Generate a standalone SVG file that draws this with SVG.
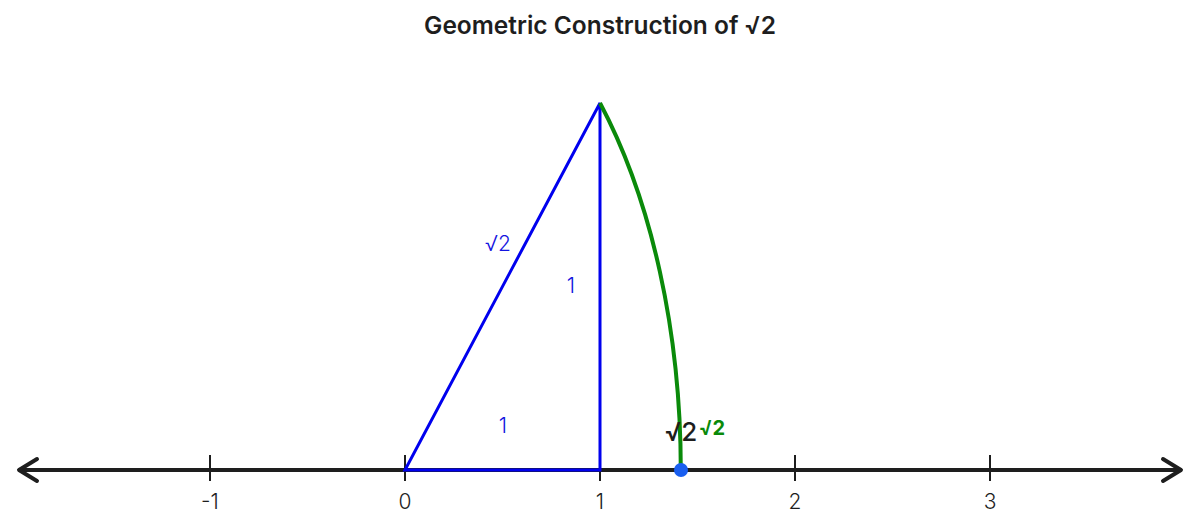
<svg xmlns="http://www.w3.org/2000/svg" width="1200" height="528" viewBox="0 0 1200 528">
<defs>
<style>
.axis{stroke:#1e1e1e;stroke-width:4;fill:none;stroke-linecap:round;stroke-linejoin:round}
.tick{stroke:#1e1e1e;stroke-width:2}
.tl{font-family:Inter,"Liberation Sans",sans-serif;font-size:21px;font-weight:300;fill:#1e1e1e;text-anchor:middle}
.blue{stroke:#0000ee;stroke-width:3;fill:none;stroke-linejoin:miter}
.bl{font-family:Inter,"Liberation Sans",sans-serif;font-size:21px;font-weight:300;fill:#1414e0;text-anchor:middle}
</style>
</defs>
<rect width="1200" height="528" fill="#ffffff"/>
<text x="600" y="34" font-family="Inter,'Liberation Sans',sans-serif" font-size="24.5" font-weight="600" fill="#1e1e1e" text-anchor="middle">Geometric Construction of √2</text>
<g id="axis">
<line class="axis" x1="20" y1="470" x2="1180" y2="470"/>
<polyline class="axis" points="37,459 19,470 37,481"/>
<polyline class="axis" points="1163,459 1181,470 1163,481"/>
<line class="tick" x1="210" y1="455" x2="210" y2="481"/>
<line class="tick" x1="405" y1="455" x2="405" y2="481"/>
<line class="tick" x1="600" y1="455" x2="600" y2="481"/>
<line class="tick" x1="795" y1="455" x2="795" y2="481"/>
<line class="tick" x1="990" y1="455" x2="990" y2="481"/>
<text class="tl" x="210" y="509">-1</text>
<text class="tl" x="405" y="509">0</text>
<text class="tl" x="600" y="509">1</text>
<text class="tl" x="795" y="509">2</text>
<text class="tl" x="990" y="509">3</text>
</g>
<g id="triangle">
<polygon class="blue" points="405,470 600,470 600,103"/>
<text class="bl" x="498" y="251">√2</text>
<text class="bl" x="571" y="293">1</text>
<text class="bl" x="503" y="433">1</text>
</g>
<g id="arc">
<path d="M600,103 A275.8,519 0 0 1 680.8,470" fill="none" stroke="#0a8a0a" stroke-width="4"/>
</g>
<g id="point">
<circle cx="681" cy="470" r="7" fill="#1a5ff0"/>
<text x="681" y="441" font-family="Inter,'Liberation Sans',sans-serif" font-size="26" font-weight="500" fill="#1e1e1e" text-anchor="middle">√2</text>
<text x="712" y="435" font-family="Inter,'Liberation Sans',sans-serif" font-size="20" font-weight="700" fill="#0a8a0a" text-anchor="middle">√2</text>
</g>
</svg>
